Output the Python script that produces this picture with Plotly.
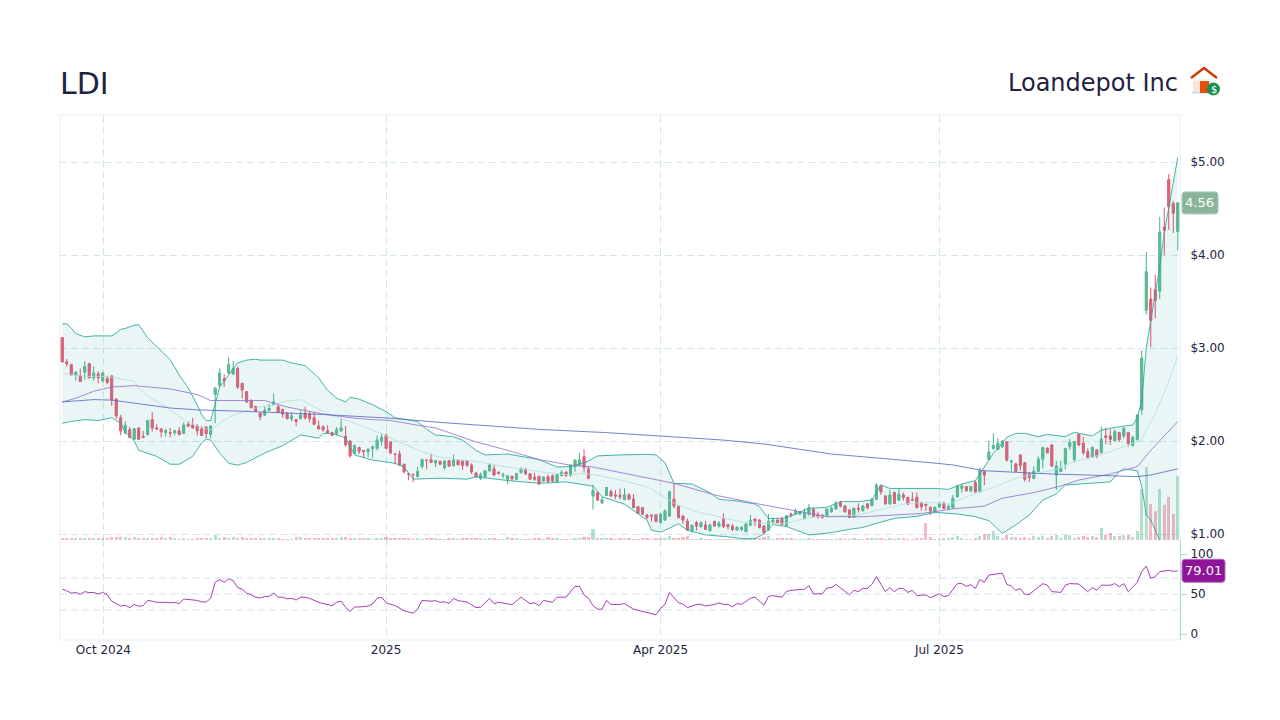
import plotly.graph_objects as go

# ---- data (one entry per trading session) ----
open_ = [3.11,2.85,2.82,2.71,2.70,2.74,2.83,2.68,2.72,2.65,2.67,2.70,2.45,2.25,2.09,2.12,2.02,2.14,2.05,2.07,
2.23,2.14,2.13,2.09,2.09,2.09,2.11,2.08,2.18,2.17,2.16,2.13,2.15,2.07,2.50,2.60,2.67,2.73,2.72,2.78,
2.62,2.53,2.43,2.37,2.30,2.28,2.33,2.39,2.37,2.34,2.30,2.24,2.23,2.24,2.30,2.29,2.25,2.16,2.15,2.11,
2.09,2.08,2.11,2.05,2.00,1.87,1.93,1.895,1.885,1.92,1.92,2.00,2.06,1.99,1.86,1.86,1.75,1.65,1.64,1.62,
1.725,1.795,1.80,1.765,1.78,1.715,1.79,1.735,1.79,1.785,1.785,1.74,1.655,1.60,1.615,1.68,1.70,1.66,1.63,1.59,
1.62,1.59,1.66,1.695,1.65,1.61,1.62,1.57,1.615,1.625,1.56,1.63,1.665,1.635,1.725,1.74,1.83,1.70,1.41,1.445,
1.335,1.415,1.455,1.42,1.415,1.37,1.42,1.375,1.294,1.283,1.204,1.204,1.208,1.122,1.15,1.194,1.373,1.294,1.194,1.136,
1.036,1.122,1.079,1.097,1.036,1.136,1.086,1.16,1.10,1.086,1.043,1.05,1.025,1.097,1.16,1.15,1.086,1.043,1.129,1.147,
1.161,1.09,1.215,1.215,1.215,1.165,1.208,1.265,1.208,1.20,1.194,1.24,1.269,1.337,1.30,1.258,1.179,1.276,1.25,1.323,
1.305,1.373,1.52,1.409,1.323,1.444,1.366,1.42,1.394,1.37,1.394,1.33,1.319,1.287,1.24,1.294,1.33,1.276,1.283,1.40,
1.49,1.509,1.466,1.552,1.455,1.67,1.803,1.921,1.91,1.939,1.993,1.778,1.753,1.85,1.767,1.652,1.599,1.674,1.803,1.921,
1.957,1.634,1.674,1.753,1.939,1.803,2.072,1.975,1.885,1.832,1.903,1.875,2.054,2.054,2.004,2.09,2.054,2.09,1.953,2.018,
2.337,3.405,3.527,3.627,3.613,4.30,4.81,4.552,4.254]

high = [3.11,2.88,2.83,2.74,2.78,2.86,2.84,2.80,2.75,2.74,2.70,2.70,2.46,2.28,2.21,2.15,2.14,2.14,2.11,2.22,
2.31,2.18,2.13,2.13,2.14,2.11,2.15,2.20,2.21,2.25,2.18,2.16,2.16,2.17,2.57,2.78,2.72,2.90,2.86,2.80,
2.62,2.53,2.45,2.38,2.30,2.37,2.40,2.51,2.39,2.34,2.31,2.31,2.23,2.33,2.37,2.32,2.31,2.22,2.17,2.17,
2.10,2.15,2.24,2.16,2.00,1.96,1.94,1.90,1.92,1.95,2.06,2.08,2.08,1.99,1.87,1.90,1.75,1.65,1.65,1.725,
1.81,1.795,1.865,1.795,1.79,1.785,1.795,1.855,1.79,1.785,1.785,1.76,1.665,1.66,1.68,1.76,1.74,1.675,1.66,1.63,
1.625,1.65,1.715,1.705,1.655,1.66,1.62,1.62,1.64,1.64,1.64,1.685,1.67,1.745,1.795,1.87,1.91,1.73,1.53,1.455,
1.40,1.50,1.48,1.47,1.49,1.49,1.44,1.43,1.294,1.29,1.215,1.205,1.208,1.215,1.265,1.455,1.538,1.31,1.194,1.165,
1.10,1.14,1.136,1.14,1.104,1.14,1.14,1.222,1.104,1.108,1.08,1.08,1.115,1.204,1.172,1.15,1.093,1.215,1.176,1.176,
1.186,1.204,1.229,1.276,1.25,1.276,1.323,1.283,1.24,1.215,1.276,1.294,1.358,1.358,1.312,1.269,1.276,1.33,1.312,1.33,
1.384,1.545,1.53,1.409,1.473,1.455,1.491,1.448,1.394,1.448,1.444,1.348,1.319,1.294,1.294,1.348,1.348,1.312,1.42,1.527,
1.538,1.516,1.516,1.58,1.713,1.688,2.004,2.082,2.03,2.01,1.993,1.796,1.767,1.85,1.774,1.66,1.724,1.832,1.939,1.932,
1.964,1.785,1.789,1.921,2.02,1.993,2.082,2.047,1.921,1.939,1.91,2.154,2.143,2.125,2.125,2.10,2.147,2.093,2.054,2.28,
2.975,4.03,3.65,3.785,4.41,4.51,4.87,4.58,4.57]

low = [2.85,2.80,2.71,2.65,2.64,2.66,2.68,2.65,2.62,2.63,2.61,2.38,2.24,2.06,2.07,2.03,2.01,2.02,2.03,2.06,
2.10,2.12,2.04,2.05,2.04,2.06,2.06,2.08,2.15,2.14,2.06,2.06,2.03,2.03,2.19,2.58,2.58,2.72,2.71,2.56,
2.46,2.41,2.35,2.32,2.22,2.27,2.32,2.39,2.31,2.25,2.24,2.21,2.16,2.24,2.23,2.20,2.17,2.13,2.10,2.08,
2.05,2.06,2.10,1.94,1.82,1.86,1.86,1.82,1.83,1.82,1.90,1.95,1.92,1.87,1.75,1.73,1.65,1.58,1.56,1.61,
1.705,1.695,1.77,1.72,1.74,1.69,1.72,1.73,1.74,1.69,1.72,1.645,1.61,1.58,1.60,1.67,1.625,1.64,1.60,1.535,
1.57,1.59,1.65,1.64,1.585,1.57,1.525,1.56,1.55,1.56,1.555,1.62,1.615,1.615,1.67,1.73,1.66,1.59,1.265,1.355,
1.32,1.41,1.40,1.375,1.375,1.365,1.365,1.275,1.222,1.205,1.158,1.133,1.133,1.12,1.15,1.186,1.276,1.168,1.108,1.036,
1.014,1.036,1.07,1.043,1.029,1.08,1.07,1.065,1.05,1.03,1.043,1.03,1.018,1.086,1.086,1.06,1.007,1.036,1.108,1.108,
1.093,1.079,1.179,1.204,1.204,1.158,1.20,1.179,1.165,1.165,1.186,1.229,1.265,1.287,1.229,1.179,1.179,1.229,1.244,1.265,
1.30,1.366,1.42,1.323,1.319,1.323,1.355,1.358,1.315,1.358,1.276,1.25,1.25,1.204,1.229,1.276,1.265,1.258,1.276,1.394,
1.444,1.455,1.448,1.444,1.448,1.527,1.796,1.903,1.903,1.921,1.778,1.681,1.667,1.681,1.563,1.556,1.588,1.667,1.706,1.867,
1.724,1.473,1.67,1.695,1.903,1.767,1.946,1.85,1.803,1.824,1.814,1.867,1.968,1.957,1.993,1.993,2.029,1.939,1.939,2.004,
2.283,3.358,3.01,3.32,3.527,4.0,4.27,4.237,4.047]

close = [2.85,2.83,2.71,2.74,2.64,2.80,2.68,2.73,2.68,2.73,2.63,2.44,2.27,2.11,2.17,2.04,2.13,2.02,2.04,2.22,
2.14,2.13,2.10,2.11,2.085,2.11,2.07,2.17,2.16,2.14,2.11,2.06,2.08,2.16,2.57,2.73,2.65,2.82,2.78,2.58,
2.55,2.42,2.36,2.32,2.26,2.33,2.35,2.42,2.31,2.29,2.24,2.27,2.21,2.28,2.25,2.24,2.18,2.13,2.12,2.09,
2.06,2.12,2.14,1.96,1.84,1.95,1.89,1.89,1.91,1.94,2.01,2.04,1.92,1.87,1.855,1.745,1.67,1.645,1.635,1.67,
1.80,1.79,1.77,1.79,1.75,1.785,1.73,1.795,1.745,1.74,1.74,1.67,1.615,1.635,1.68,1.74,1.635,1.652,1.64,1.625,
1.595,1.65,1.70,1.645,1.59,1.59,1.54,1.61,1.565,1.57,1.64,1.665,1.63,1.74,1.795,1.795,1.715,1.60,1.47,1.365,
1.37,1.50,1.41,1.41,1.40,1.42,1.375,1.285,1.222,1.215,1.18,1.195,1.133,1.215,1.247,1.455,1.30,1.176,1.15,1.043,
1.093,1.086,1.122,1.05,1.097,1.086,1.115,1.08,1.08,1.05,1.072,1.072,1.108,1.143,1.14,1.072,1.014,1.133,1.15,1.122,
1.104,1.197,1.204,1.247,1.24,1.229,1.283,1.186,1.186,1.179,1.265,1.276,1.33,1.30,1.24,1.179,1.276,1.265,1.30,1.283,
1.373,1.527,1.455,1.323,1.42,1.33,1.427,1.394,1.323,1.366,1.283,1.294,1.308,1.25,1.287,1.323,1.276,1.30,1.384,1.516,
1.516,1.466,1.509,1.455,1.681,1.634,1.882,1.95,1.975,2.0,1.796,1.785,1.674,1.735,1.588,1.609,1.674,1.803,1.928,1.875,
1.731,1.731,1.706,1.921,1.986,1.993,1.957,1.875,1.824,1.932,1.839,2.018,2.04,2.018,2.10,2.018,2.136,1.975,2.039,2.28,
2.892,3.82,3.297,3.513,4.247,4.265,4.523,4.45,4.56]

volume = [1.6,1.5,1.5,1.6,1.5,1.6,1.5,1.6,1.5,1.6,1.5,
2.1,2.6,2.6,2.1,1.6,
2.2,1.7,1.5,1.6,1.7,1.5,2.6,1.5,2.1,1.3,1.0,1.3,0.8,0.8,1.3,1.3,1.3,1.7,
4.3,
2.0,2.2,2.0,2.2,1.8,2.2,1.8,1.6,1.5,1.5,1.4,1.5,2.0,1.5,1.2,1.0,1.1,2.2,2.4,1.7,1.7,1.6,1.6,1.6,1.5,1.8,1.6,2.2,2.1,
1.9,1.4,2.0,1.6,1.3,1.2,1.7,1.6,
2.7,
1.3,1.8,1.4,1.4,1.4,1.2,1.4,1.0,1.3,1.4,1.6,1.1,1.1,1.5,1.5,1.2,1.3,1.3,1.3,1.6,1.6,1.0,1.4,1.3,1.1,1.2,
2.7,
1.3,1.3,1.1,1.2,1.1,1.5,1.4,1.1,
2.6,
1.3,1.3,1.0,0.8,1.2,1.3,1.6,
2.6,2.6,9.0,
1.6,1.6,1.3,1.4,1.2,1.3,1.5,1.4,1.2,1.2,1.3,1.3,1.2,1.3,1.4,1.6,
3.5,1.5,1.5,2.7,3.4,
1.2,1.2,1.3,1.1,1.1,1.0,1.1,1.2,1.0,1.0,1.1,1.1,1.2,1.0,1.3,2.0,2.2,
3.2,
1.2,1.5,1.5,1.3,1.3,1.2,1.1,1.2,1.3,1.2,1.1,1.2,1.1,1.1,1.2,1.4,1.2,1.1,1.4,1.1,1.2,1.4,1.4,1.5,1.9,1.2,1.3,1.2,1.4,1.3,1.1,1.2,1.4,
1.9,13.9,
2.1,1.1,1.1,1.3,1.3,2.1,2.9,1.9,1.2,1.2,
1.3,3.2,4.5,5.2,7.0,2.9,1.9,3.7,2.4,2.1,1.9,2.1,1.9,2.9,2.1,2.9,1.9,2.9,4.0,1.9,4.0,4.0,1.9,2.4,2.9,2.7,2.9,2.4,
9.3,3.7,5.6,2.9,3.4,4.0,4.0,2.4,7.0,41,58,29,23,41,28,34,21,51]

bb_upper_i = [0,1,2,3,5,7,11,12,13,14,16,17,19,22,24,26,28,30,31,32,33,34,35,37,39,41,43,44,49,51,54,57,59,61,63,64,66,69,72,74,79,81,83,87,89,92,94,99,106,110,113,117,119,124,130,132,134,136,139,140,144,146,150,154,155,157,160,162,166,170,173,177,180,182,184,190,194,197,199,200,203,204,206,207,209,210,212,214,217,219,223,225,229,231,235,238,239,240,241,242,243,244,245,246,247,248]
bb_upper = [3.26,3.26,3.215,3.155,3.12,3.13,3.13,3.16,3.20,3.21,3.245,3.25,3.11,2.975,2.875,2.71,2.57,2.39,2.28,2.22,2.22,2.40,2.58,2.71,2.84,2.87,2.88,2.87,2.87,2.84,2.81,2.68,2.545,2.46,2.42,2.47,2.45,2.39,2.315,2.25,2.21,2.125,2.065,2.045,2.01,1.90,1.85,1.86,1.80,1.72,1.725,1.785,1.84,1.85,1.857,1.85,1.767,1.545,1.534,1.538,1.444,1.373,1.355,1.323,1.294,1.168,1.168,1.194,1.276,1.287,1.348,1.348,1.366,1.527,1.49,1.49,1.49,1.48,1.516,1.538,1.573,1.65,1.796,1.867,1.975,2.04,2.082,2.082,2.047,2.07,2.047,2.093,2.054,2.118,2.154,2.172,2.25,2.44,3.0,3.30,3.59,3.88,4.24,4.52,4.77,5.05]

bb_mid_i = [0,2,5,10,13,16,17,19,23,27,30,33,35,38,43,47,50,53,56,60,64,69,74,80,84,92,99,106,113,115,118,124,130,133,136,141,147,151,156,161,166,171,177,183,188,193,197,204,207,212,217,221,225,229,233,237,240,241,242,243,245,247,248]
bb_mid = [2.725,2.71,2.695,2.695,2.67,2.64,2.57,2.48,2.37,2.23,2.16,2.12,2.19,2.28,2.355,2.39,2.43,2.445,2.37,2.27,2.21,2.12,2.01,1.885,1.825,1.78,1.72,1.67,1.635,1.65,1.64,1.58,1.51,1.42,1.33,1.24,1.17,1.13,1.115,1.115,1.18,1.19,1.205,1.276,1.33,1.34,1.32,1.455,1.50,1.60,1.65,1.695,1.78,1.825,1.885,1.957,2.01,2.12,2.20,2.30,2.52,2.77,2.91]

bb_lower_i = [0,2,5,8,11,13,14,16,17,21,24,26,29,31,32,33,35,37,39,41,45,49,53,57,58,60,62,63,64,65,69,74,76,78,84,90,92,99,106,112,118,120,125,129,130,131,133,134,137,139,143,148,151,154,156,158,161,166,171,175,178,181,185,190,194,199,203,206,209,212,215,218,221,223,229,233,235,236,239,240,241,242,244,245,248]
bb_lower = [2.19,2.21,2.23,2.22,2.25,2.19,2.10,2.0,1.90,1.835,1.75,1.75,1.835,1.98,2.02,2.01,1.87,1.76,1.74,1.77,1.87,1.95,2.065,2.03,2.08,2.08,2.05,2.03,1.94,1.85,1.795,1.76,1.72,1.59,1.60,1.59,1.615,1.575,1.545,1.56,1.515,1.40,1.32,1.18,1.15,1.04,1.02,1.04,1.11,1.04,0.99,0.97,0.95,0.95,1.0,1.10,1.08,0.99,1.014,1.05,1.07,1.115,1.168,1.19,1.233,1.215,1.187,1.143,1.007,1.097,1.204,1.366,1.43,1.527,1.55,1.56,1.67,1.70,1.68,1.51,1.204,1.15,0.935,0.75,0.35]

ma50_i = [0,3,7,11,16,24,30,33,45,50,58,65,69,73,79,83,92,99,106,113,118,128,136,145,154,164,170,178,185,191,198,205,209,216,222,226,233,239,242,248]
ma50 = [2.42,2.46,2.535,2.58,2.595,2.56,2.50,2.435,2.435,2.365,2.29,2.245,2.23,2.22,2.17,2.14,1.99,1.90,1.80,1.74,1.72,1.62,1.545,1.42,1.33,1.24,1.186,1.186,1.204,1.22,1.27,1.30,1.385,1.445,1.516,1.58,1.645,1.724,1.90,2.21]

ma200_i = [0,7,11,17,24,30,40,58,65,73,84,95,106,121,128,140,147,156,171,193,198,205,213,220,228,235,239,242,248]
ma200 = [2.42,2.445,2.44,2.40,2.355,2.335,2.32,2.285,2.265,2.245,2.20,2.16,2.125,2.09,2.07,2.03,2.01,1.968,1.86,1.767,1.742,1.68,1.66,1.645,1.634,1.624,1.617,1.635,1.70]

rsi_i = [0,1,2,3,4,5,6,7,8,9,10,11,12,13,14,15,16,17,18,19,20,21,23,24,25,26,27,28,29,30,31,32,33,34,35,36,37,38,39,40,41,42,43,44,45,46,47,48,49,50,51,52,53,54,55,57,60,61,62,63,64,65,66,68,69,70,71,72,74,76,78,79,80,82,83,84,85,86,87,88,90,92,93,95,96,97,100,102,104,105,106,107,109,110,112,114,115,116,117,118,119,120,121,122,124,125,127,131,132,133,134,135,137,138,139,141,142,143,145,146,147,148,149,150,151,153,154,156,157,158,160,161,162,165,166,167,169,170,171,172,173,175,176,177,178,179,180,181,183,184,185,186,187,188,189,190,192,193,195,196,197,199,200,201,202,203,204,205,206,209,210,211,212,213,214,215,218,219,220,222,223,224,226,228,229,230,231,233,234,235,236,237,239,240,241,242,243,244,246,247,248]
rsi = [56,54,51,52,49.6,53,51.7,52,50,52,49,41,38,35,36,33,37,34.6,35.4,42,41,39.6,39.6,39,39.6,38,43.7,43,42.5,42,40,40,44.6,64.6,68,64.6,68.7,66.7,58,56,51,49,46,45,47,47,51,46,46,44,44.6,42.5,46,46,44.6,39.6,35.4,39.6,41,33.3,28,34,33.7,35,37.5,44.6,46,39,35.4,29,26,31,42,41,41.7,39.6,40.4,38,44.6,41.7,40,33,33.5,44.6,38,39.6,36.7,46,38,39,35.4,42,39.6,46,46,59.6,59.6,48.7,44.6,35.4,31,31,42,37,37,38,31,26,24,32,37,52,39,37.5,33,37,37,35,37,39,37,37,34,38,37,44.6,46,36,47,48,46,53,54.6,56,60.4,50,50.4,57.5,58,62,58,49,54.6,53,57,57,62,71.7,53,58,53,57,57,52,54.6,48,49,45.4,50.4,46.7,48,63,63,59.6,61.7,57,68,64.6,73.7,76,62,60,54.6,56.7,49.6,49.6,63,61,53,52,61,63,62.5,53,58,54.6,61,61,63,59,63,53,64.6,78,85,69.6,71.7,78,79.6,78.3,79.01]

x_tick_vals = [9.15, 72, 133, 195]
x_tick_text = ["Oct 2024", "2025", "Apr 2025", "Jul 2025"]
price_ticks = [1, 2, 3, 4, 5]
rsi_ticks = [0, 50, 100]
rsi_grid = [30, 50, 70]
title_left = "LDI"
title_right = "Loandepot Inc"

# ---- styles ----
WICK_UP, WICK_DOWN = "#3fb385", "#ee4a66"
BODY_UP, BODY_DOWN = "#62ba94", "#e3627b"
GRID = "#d3e7ec"
EDGE = "#e4eff3"
TXT = "#1e2440"
FONT = "DejaVu Sans"

L, R, T, B = 60, 1180, 116, 640
W, H = R - L, B - T
def px(x): return (x - L) / W
def py(y): return (B - y) / H
SPLIT = py(540)

idx = list(range(len(close)))
vol_colors = ["rgba(81,181,138,0.42)" if c >= o else "rgba(229,80,107,0.40)" for o, c in zip(open_, close)]
body_top = [max(o, c) for o, c in zip(open_, close)]
body_bot = [min(o, c) for o, c in zip(open_, close)]

fig = go.Figure()
fig.add_bar(x=idx, y=volume, yaxis="y", marker=dict(color=vol_colors, line_width=0), width=0.72, showlegend=False)
fig.add_scatter(x=bb_upper_i, y=bb_upper, yaxis="y2", mode="lines", line=dict(color="#26a69a", width=0.85))
fig.add_scatter(x=bb_lower_i, y=bb_lower, yaxis="y2", mode="lines", line=dict(color="#26a69a", width=0.85),
                fill="tonexty", fillcolor="rgba(38,166,154,0.10)")
fig.add_scatter(x=bb_mid_i, y=bb_mid, yaxis="y2", mode="lines", line=dict(color="#b2dfdb", width=0.85))
fig.add_scatter(x=ma50_i, y=ma50, yaxis="y2", mode="lines", line=dict(color="#9575cd", width=0.85))
fig.add_scatter(x=ma200_i, y=ma200, yaxis="y2", mode="lines", line=dict(color="#5c6bc0", width=0.85))
# wicks
fig.add_candlestick(x=idx, open=open_, high=high, low=low, close=close, yaxis="y2", whiskerwidth=0,
                    increasing=dict(line=dict(color=WICK_UP, width=1), fillcolor=WICK_UP),
                    decreasing=dict(line=dict(color=WICK_DOWN, width=1), fillcolor=WICK_DOWN))
# bodies in their lighter tone, over the wicks
fig.add_candlestick(x=idx, open=open_, high=body_top, low=body_bot, close=close, yaxis="y2", whiskerwidth=0,
                    increasing=dict(line=dict(color=BODY_UP, width=1), fillcolor=BODY_UP),
                    decreasing=dict(line=dict(color=BODY_DOWN, width=1), fillcolor=BODY_DOWN))
fig.add_scatter(x=rsi_i, y=rsi, yaxis="y3", mode="lines", line=dict(color="#9c27b0", width=0.9))

shapes = [
    dict(type="rect", xref="paper", yref="paper", x0=0, x1=1, y0=0, y1=1.002, line=dict(color=EDGE, width=1), layer="below"),
]
for g in rsi_grid:
    shapes.append(dict(type="line", xref="paper", yref="y3", x0=0, x1=1, y0=g, y1=g,
                       line=dict(color=GRID, width=1, dash="7px,4px"), layer="below"))

def rounded(x0, x1, h, r):
    t = h / 2
    return (f"M {x0+r} {-t} L {x1-r} {-t} Q {x1} {-t} {x1} {-t+r} L {x1} {t-r} Q {x1} {t} {x1-r} {t} "
            f"L {x0+r} {t} Q {x0} {t} {x0} {t-r} L {x0} {-t+r} Q {x0} {-t} {x0+r} {-t} Z")

shapes.append(dict(type="path", xref="paper", xsizemode="pixel", xanchor=1, yref="y2", ysizemode="pixel",
                   yanchor=close[-1], path=rounded(2, 38, 22, 3), fillcolor="#8ab59b", line=dict(color="#a7cbb5", width=1)))
shapes.append(dict(type="path", xref="paper", xsizemode="pixel", xanchor=1, yref="y3", ysizemode="pixel",
                   yanchor=rsi[-1], path=rounded(2, 45, 23, 3), fillcolor="#8e1599", line=dict(color="#b06dbb", width=1)))

# house logo
def box(x0, y0, x1, y1, color):
    return dict(type="rect", xref="paper", yref="paper", x0=px(x0), x1=px(x1), y0=py(y1), y1=py(y0),
                fillcolor=color, line_width=0, layer="above")
shapes += [
    box(1193, 79, 1213, 91, "#f6f3f1"),
    box(1192, 91, 1213, 94, "#d9e3ee"),
    box(1200, 81, 1209, 93, "#e5500f"),
    box(1193, 81, 1200, 91, "#fbe3d6"),
    dict(type="path", xref="paper", yref="paper", layer="above", line=dict(color="#cb3a06", width=2.5),
         path=f"M {px(1191)} {py(78)} L {px(1204)} {py(68)} L {px(1217)} {py(78)}"),
    dict(type="circle", xref="paper", yref="paper", x0=px(1207), x1=px(1220), y0=py(95.5), y1=py(82.5),
         fillcolor="#148f50", line_width=0, layer="above"),
]

annotations = [
    dict(text=title_left, xref="paper", yref="paper", x=0, y=py(83), xanchor="left", yanchor="middle", showarrow=False,
         xshift=-2.5, font=dict(size=30, color=TXT, family=FONT)),
    dict(text=title_right, xref="paper", yref="paper", x=px(1179.5), y=py(83), xanchor="right", yanchor="middle", showarrow=False,
         font=dict(size=24, color=TXT, family=FONT)),
    dict(text="$", xref="paper", yref="paper", x=px(1213.5), y=py(89), xanchor="center", yanchor="middle", showarrow=False,
         font=dict(size=10, color="white", family=FONT)),
    dict(text=f"{close[-1]:.2f}", xref="paper", yref="y2", x=px(1199), y=close[-1], xanchor="center", yanchor="middle",
         showarrow=False, font=dict(size=13, color="white", family=FONT)),
    dict(text=f"{rsi[-1]:.2f}", xref="paper", yref="y3", x=px(1203), y=rsi[-1], xanchor="center", yanchor="middle",
         showarrow=False, font=dict(size=13, color="white", family=FONT)),
]

fig.update_layout(
    width=1280, height=720, margin=dict(l=L, r=1280 - R, t=T, b=720 - B),
    paper_bgcolor="white", plot_bgcolor="white", showlegend=False, hovermode=False,
    font=dict(family=FONT, size=12, color=TXT), bargap=0, boxgap=0.42,
    xaxis=dict(domain=[0, 1], anchor="y3", range=[-0.5, 248.5], tickmode="array", tickvals=x_tick_vals,
               ticktext=x_tick_text, ticks="", ticklabelstandoff=1, showgrid=True, gridcolor=GRID, griddash="7px,4px", gridwidth=1,
               zeroline=False, showline=False, rangeslider=dict(visible=False), tickfont=dict(size=12, color=TXT)),
    yaxis=dict(domain=[SPLIT, 1], range=[0, 339], visible=False, showgrid=False, zeroline=False),
    yaxis2=dict(domain=[SPLIT, 1], overlaying="y", side="right", anchor="x", range=[0.9355, 5.4946],
                tickmode="array", tickvals=price_ticks, tickformat="$.2f", ticks="outside", ticklen=6, ticklabelstandoff=1,
                tickcolor="rgba(0,0,0,0)", showgrid=True, gridcolor=GRID, griddash="7px,4px", zeroline=False,
                showline=False, tickfont=dict(size=12, color=TXT)),
    yaxis3=dict(domain=[0, SPLIT], side="right", anchor="x", range=[-7.5, 117.5], tickmode="array", tickvals=rsi_ticks,
                ticks="outside", ticklen=6, ticklabelstandoff=1, tickcolor="#b4d6dd", showgrid=False, zeroline=False, showline=True,
                linecolor="#b4d6dd", linewidth=1, tickfont=dict(size=12, color=TXT)),
    shapes=shapes, annotations=annotations,
)

fig.write_html("out.html", config=dict(displayModeBar=False),
               post_script="document.body.style.margin='0';document.body.style.overflow='hidden';")
